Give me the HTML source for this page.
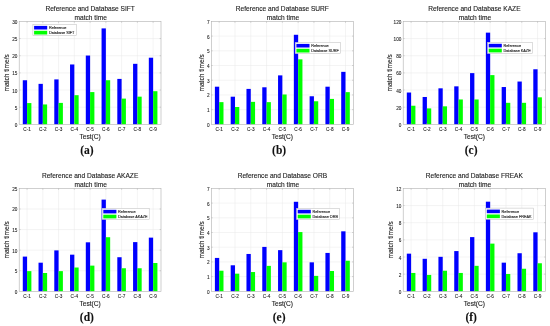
<!DOCTYPE html>
<html><head><meta charset="utf-8"><title>match time</title><style>
html,body{margin:0;padding:0;background:#fff;}
body{width:550px;height:326px;overflow:hidden;}
svg{display:block;}
text{font-family:"Liberation Sans",Arial,sans-serif;fill:#222;}
.gr{stroke:#e8e8e8;stroke-width:0.5;}
.tk{fill:none;stroke:#b0b0b0;stroke-width:0.5;}
.ax{fill:none;stroke:#b0b0b0;stroke-width:0.6;}
.lg{fill:#fff;stroke:#bbb;stroke-width:0.5;}
.yt{font-size:4.7px;text-anchor:end;stroke:#222;stroke-width:0.08px;}
.xt{font-size:4.7px;text-anchor:middle;stroke:#222;stroke-width:0.08px;}
.lab{font-size:6.6px;text-anchor:middle;stroke:#222;stroke-width:0.12px;}
.tt{font-size:6.6px;text-anchor:middle;stroke:#222;stroke-width:0.12px;}
.lt{font-size:3.8px;stroke:#222;stroke-width:0.12px;}
.cap{font-family:"Liberation Serif","Times New Roman",serif;font-weight:bold;font-size:11.5px;text-anchor:middle;fill:#111;stroke:#111;stroke-width:0.1px;}
</style></head>
<body><svg width="550" height="326" viewBox="0 0 550 326">
<rect width="550" height="326" fill="#fff"/>
<line x1="27.08" y1="21.4" x2="27.08" y2="124.35" class="gr"/>
<line x1="42.83" y1="21.4" x2="42.83" y2="124.35" class="gr"/>
<line x1="58.59" y1="21.4" x2="58.59" y2="124.35" class="gr"/>
<line x1="74.34" y1="21.4" x2="74.34" y2="124.35" class="gr"/>
<line x1="90.1" y1="21.4" x2="90.1" y2="124.35" class="gr"/>
<line x1="105.86" y1="21.4" x2="105.86" y2="124.35" class="gr"/>
<line x1="121.61" y1="21.4" x2="121.61" y2="124.35" class="gr"/>
<line x1="137.37" y1="21.4" x2="137.37" y2="124.35" class="gr"/>
<line x1="153.12" y1="21.4" x2="153.12" y2="124.35" class="gr"/>
<line x1="19.2" y1="107.19" x2="161" y2="107.19" class="gr"/>
<line x1="19.2" y1="90.03" x2="161" y2="90.03" class="gr"/>
<line x1="19.2" y1="72.88" x2="161" y2="72.88" class="gr"/>
<line x1="19.2" y1="55.72" x2="161" y2="55.72" class="gr"/>
<line x1="19.2" y1="38.56" x2="161" y2="38.56" class="gr"/>
<rect x="22.78" y="80.25" width="4.3" height="44.1" fill="#0000ff"/>
<rect x="27.08" y="103.07" width="4.3" height="21.28" fill="#00ff00"/>
<rect x="38.53" y="83.86" width="4.3" height="40.49" fill="#0000ff"/>
<rect x="42.83" y="104.45" width="4.3" height="19.9" fill="#00ff00"/>
<rect x="54.29" y="79.4" width="4.3" height="44.95" fill="#0000ff"/>
<rect x="58.59" y="102.9" width="4.3" height="21.45" fill="#00ff00"/>
<rect x="70.04" y="64.47" width="4.3" height="59.88" fill="#0000ff"/>
<rect x="74.34" y="95.18" width="4.3" height="29.17" fill="#00ff00"/>
<rect x="85.8" y="55.55" width="4.3" height="68.8" fill="#0000ff"/>
<rect x="90.1" y="92.09" width="4.3" height="32.26" fill="#00ff00"/>
<rect x="101.56" y="28.4" width="4.3" height="95.95" fill="#0000ff"/>
<rect x="105.86" y="80.22" width="4.3" height="44.13" fill="#00ff00"/>
<rect x="117.31" y="78.91" width="4.3" height="45.44" fill="#0000ff"/>
<rect x="121.61" y="98.61" width="4.3" height="25.74" fill="#00ff00"/>
<rect x="133.07" y="63.82" width="4.3" height="60.53" fill="#0000ff"/>
<rect x="137.37" y="96.66" width="4.3" height="27.69" fill="#00ff00"/>
<rect x="148.82" y="57.71" width="4.3" height="66.64" fill="#0000ff"/>
<rect x="153.12" y="91.2" width="4.3" height="33.15" fill="#00ff00"/>
<path d="M27.08 124.35v-1.4M27.08 21.4v1.4M42.83 124.35v-1.4M42.83 21.4v1.4M58.59 124.35v-1.4M58.59 21.4v1.4M74.34 124.35v-1.4M74.34 21.4v1.4M90.1 124.35v-1.4M90.1 21.4v1.4M105.86 124.35v-1.4M105.86 21.4v1.4M121.61 124.35v-1.4M121.61 21.4v1.4M137.37 124.35v-1.4M137.37 21.4v1.4M153.12 124.35v-1.4M153.12 21.4v1.4M19.2 107.19h1.4M161 107.19h-1.4M19.2 90.03h1.4M161 90.03h-1.4M19.2 72.88h1.4M161 72.88h-1.4M19.2 55.72h1.4M161 55.72h-1.4M19.2 38.56h1.4M161 38.56h-1.4" class="tk"/>
<rect x="19.2" y="21.4" width="141.8" height="102.95" class="ax"/>
<text x="17.4" y="126.85" class="yt">0</text>
<text x="17.4" y="109.69" class="yt">5</text>
<text x="17.4" y="92.53" class="yt">10</text>
<text x="17.4" y="75.38" class="yt">15</text>
<text x="17.4" y="58.22" class="yt">20</text>
<text x="17.4" y="41.06" class="yt">25</text>
<text x="17.4" y="23.9" class="yt">30</text>
<text x="27.08" y="130.85" class="xt">C-1</text>
<text x="42.83" y="130.85" class="xt">C-2</text>
<text x="58.59" y="130.85" class="xt">C-3</text>
<text x="74.34" y="130.85" class="xt">C-4</text>
<text x="90.1" y="130.85" class="xt">C-5</text>
<text x="105.86" y="130.85" class="xt">C-6</text>
<text x="121.61" y="130.85" class="xt">C-7</text>
<text x="137.37" y="130.85" class="xt">C-8</text>
<text x="153.12" y="130.85" class="xt">C-9</text>
<text x="90.1" y="138.65" class="lab">Test(C)</text>
<text transform="translate(8.7,72.88) rotate(-90)" class="lab">match time/s</text>
<text x="90.1" y="10.7" class="tt">Reference and Database SIFT</text>
<text x="90.7" y="19.7" class="tt">match time</text>
<rect x="32.9" y="24.4" width="43.8" height="11.2" class="lg"/>
<rect x="34.1" y="25.9" width="13.1" height="3.6" fill="#0000ff"/>
<rect x="34.1" y="30.8" width="13.1" height="3.7" fill="#00ff00"/>
<text x="48.9" y="28.9" class="lt">Reference</text>
<text x="48.9" y="33.8" class="lt">Database SIFT</text>
<text transform="translate(86.9,154.35)" class="cap">(a)</text>
<line x1="219.19" y1="21.4" x2="219.19" y2="124.35" class="gr"/>
<line x1="234.98" y1="21.4" x2="234.98" y2="124.35" class="gr"/>
<line x1="250.77" y1="21.4" x2="250.77" y2="124.35" class="gr"/>
<line x1="266.56" y1="21.4" x2="266.56" y2="124.35" class="gr"/>
<line x1="282.35" y1="21.4" x2="282.35" y2="124.35" class="gr"/>
<line x1="298.14" y1="21.4" x2="298.14" y2="124.35" class="gr"/>
<line x1="313.93" y1="21.4" x2="313.93" y2="124.35" class="gr"/>
<line x1="329.72" y1="21.4" x2="329.72" y2="124.35" class="gr"/>
<line x1="345.51" y1="21.4" x2="345.51" y2="124.35" class="gr"/>
<line x1="211.3" y1="109.64" x2="353.4" y2="109.64" class="gr"/>
<line x1="211.3" y1="94.94" x2="353.4" y2="94.94" class="gr"/>
<line x1="211.3" y1="80.23" x2="353.4" y2="80.23" class="gr"/>
<line x1="211.3" y1="65.52" x2="353.4" y2="65.52" class="gr"/>
<line x1="211.3" y1="50.81" x2="353.4" y2="50.81" class="gr"/>
<line x1="211.3" y1="36.11" x2="353.4" y2="36.11" class="gr"/>
<rect x="214.89" y="86.7" width="4.3" height="37.65" fill="#0000ff"/>
<rect x="219.19" y="102.14" width="4.3" height="22.21" fill="#00ff00"/>
<rect x="230.68" y="96.7" width="4.3" height="27.65" fill="#0000ff"/>
<rect x="234.98" y="107" width="4.3" height="17.35" fill="#00ff00"/>
<rect x="246.47" y="88.91" width="4.3" height="35.44" fill="#0000ff"/>
<rect x="250.77" y="101.85" width="4.3" height="22.5" fill="#00ff00"/>
<rect x="262.26" y="87.29" width="4.3" height="37.06" fill="#0000ff"/>
<rect x="266.56" y="102.14" width="4.3" height="22.21" fill="#00ff00"/>
<rect x="278.05" y="75.38" width="4.3" height="48.97" fill="#0000ff"/>
<rect x="282.35" y="94.49" width="4.3" height="29.86" fill="#00ff00"/>
<rect x="293.84" y="34.78" width="4.3" height="89.57" fill="#0000ff"/>
<rect x="298.14" y="59.34" width="4.3" height="65.01" fill="#00ff00"/>
<rect x="309.63" y="96.26" width="4.3" height="28.09" fill="#0000ff"/>
<rect x="313.93" y="101.26" width="4.3" height="23.09" fill="#00ff00"/>
<rect x="325.42" y="86.7" width="4.3" height="37.65" fill="#0000ff"/>
<rect x="329.72" y="98.91" width="4.3" height="25.44" fill="#00ff00"/>
<rect x="341.21" y="71.85" width="4.3" height="52.5" fill="#0000ff"/>
<rect x="345.51" y="92.14" width="4.3" height="32.21" fill="#00ff00"/>
<path d="M219.19 124.35v-1.4M219.19 21.4v1.4M234.98 124.35v-1.4M234.98 21.4v1.4M250.77 124.35v-1.4M250.77 21.4v1.4M266.56 124.35v-1.4M266.56 21.4v1.4M282.35 124.35v-1.4M282.35 21.4v1.4M298.14 124.35v-1.4M298.14 21.4v1.4M313.93 124.35v-1.4M313.93 21.4v1.4M329.72 124.35v-1.4M329.72 21.4v1.4M345.51 124.35v-1.4M345.51 21.4v1.4M211.3 109.64h1.4M353.4 109.64h-1.4M211.3 94.94h1.4M353.4 94.94h-1.4M211.3 80.23h1.4M353.4 80.23h-1.4M211.3 65.52h1.4M353.4 65.52h-1.4M211.3 50.81h1.4M353.4 50.81h-1.4M211.3 36.11h1.4M353.4 36.11h-1.4" class="tk"/>
<rect x="211.3" y="21.4" width="142.1" height="102.95" class="ax"/>
<text x="209.5" y="126.85" class="yt">0</text>
<text x="209.5" y="112.14" class="yt">1</text>
<text x="209.5" y="97.44" class="yt">2</text>
<text x="209.5" y="82.73" class="yt">3</text>
<text x="209.5" y="68.02" class="yt">4</text>
<text x="209.5" y="53.31" class="yt">5</text>
<text x="209.5" y="38.61" class="yt">6</text>
<text x="209.5" y="23.9" class="yt">7</text>
<text x="219.19" y="130.85" class="xt">C-1</text>
<text x="234.98" y="130.85" class="xt">C-2</text>
<text x="250.77" y="130.85" class="xt">C-3</text>
<text x="266.56" y="130.85" class="xt">C-4</text>
<text x="282.35" y="130.85" class="xt">C-5</text>
<text x="298.14" y="130.85" class="xt">C-6</text>
<text x="313.93" y="130.85" class="xt">C-7</text>
<text x="329.72" y="130.85" class="xt">C-8</text>
<text x="345.51" y="130.85" class="xt">C-9</text>
<text x="282.35" y="138.65" class="lab">Test(C)</text>
<text transform="translate(204.4,72.88) rotate(-90)" class="lab">match time/s</text>
<text x="282.35" y="10.7" class="tt">Reference and Database SURF</text>
<text x="282.95" y="19.7" class="tt">match time</text>
<rect x="295.2" y="42.4" width="45.3" height="11.2" class="lg"/>
<rect x="296.4" y="43.9" width="13.1" height="3.6" fill="#0000ff"/>
<rect x="296.4" y="48.8" width="13.1" height="3.7" fill="#00ff00"/>
<text x="311.2" y="46.9" class="lt">Reference</text>
<text x="311.2" y="51.8" class="lt">Database SURF</text>
<text transform="translate(279.15,154.35)" class="cap">(b)</text>
<line x1="411.11" y1="21.4" x2="411.11" y2="124.35" class="gr"/>
<line x1="426.92" y1="21.4" x2="426.92" y2="124.35" class="gr"/>
<line x1="442.73" y1="21.4" x2="442.73" y2="124.35" class="gr"/>
<line x1="458.54" y1="21.4" x2="458.54" y2="124.35" class="gr"/>
<line x1="474.35" y1="21.4" x2="474.35" y2="124.35" class="gr"/>
<line x1="490.16" y1="21.4" x2="490.16" y2="124.35" class="gr"/>
<line x1="505.97" y1="21.4" x2="505.97" y2="124.35" class="gr"/>
<line x1="521.78" y1="21.4" x2="521.78" y2="124.35" class="gr"/>
<line x1="537.59" y1="21.4" x2="537.59" y2="124.35" class="gr"/>
<line x1="403.2" y1="107.19" x2="545.5" y2="107.19" class="gr"/>
<line x1="403.2" y1="90.03" x2="545.5" y2="90.03" class="gr"/>
<line x1="403.2" y1="72.88" x2="545.5" y2="72.88" class="gr"/>
<line x1="403.2" y1="55.72" x2="545.5" y2="55.72" class="gr"/>
<line x1="403.2" y1="38.56" x2="545.5" y2="38.56" class="gr"/>
<rect x="406.81" y="92.52" width="4.3" height="31.83" fill="#0000ff"/>
<rect x="411.11" y="105.73" width="4.3" height="18.62" fill="#00ff00"/>
<rect x="422.62" y="96.98" width="4.3" height="27.37" fill="#0000ff"/>
<rect x="426.92" y="108.39" width="4.3" height="15.96" fill="#00ff00"/>
<rect x="438.43" y="88.32" width="4.3" height="36.03" fill="#0000ff"/>
<rect x="442.73" y="106.33" width="4.3" height="18.02" fill="#00ff00"/>
<rect x="454.24" y="86.34" width="4.3" height="38.01" fill="#0000ff"/>
<rect x="458.54" y="99.47" width="4.3" height="24.88" fill="#00ff00"/>
<rect x="470.05" y="73.13" width="4.3" height="51.22" fill="#0000ff"/>
<rect x="474.35" y="99.47" width="4.3" height="24.88" fill="#00ff00"/>
<rect x="485.86" y="32.64" width="4.3" height="91.71" fill="#0000ff"/>
<rect x="490.16" y="75.11" width="4.3" height="49.24" fill="#00ff00"/>
<rect x="501.67" y="87.03" width="4.3" height="37.32" fill="#0000ff"/>
<rect x="505.97" y="102.82" width="4.3" height="21.53" fill="#00ff00"/>
<rect x="517.48" y="81.54" width="4.3" height="42.81" fill="#0000ff"/>
<rect x="521.78" y="102.82" width="4.3" height="21.53" fill="#00ff00"/>
<rect x="533.29" y="69.27" width="4.3" height="55.08" fill="#0000ff"/>
<rect x="537.59" y="97.33" width="4.3" height="27.02" fill="#00ff00"/>
<path d="M411.11 124.35v-1.4M411.11 21.4v1.4M426.92 124.35v-1.4M426.92 21.4v1.4M442.73 124.35v-1.4M442.73 21.4v1.4M458.54 124.35v-1.4M458.54 21.4v1.4M474.35 124.35v-1.4M474.35 21.4v1.4M490.16 124.35v-1.4M490.16 21.4v1.4M505.97 124.35v-1.4M505.97 21.4v1.4M521.78 124.35v-1.4M521.78 21.4v1.4M537.59 124.35v-1.4M537.59 21.4v1.4M403.2 107.19h1.4M545.5 107.19h-1.4M403.2 90.03h1.4M545.5 90.03h-1.4M403.2 72.88h1.4M545.5 72.88h-1.4M403.2 55.72h1.4M545.5 55.72h-1.4M403.2 38.56h1.4M545.5 38.56h-1.4" class="tk"/>
<rect x="403.2" y="21.4" width="142.3" height="102.95" class="ax"/>
<text x="401.4" y="126.85" class="yt">0</text>
<text x="401.4" y="109.69" class="yt">20</text>
<text x="401.4" y="92.53" class="yt">40</text>
<text x="401.4" y="75.38" class="yt">60</text>
<text x="401.4" y="58.22" class="yt">80</text>
<text x="401.4" y="41.06" class="yt">100</text>
<text x="401.4" y="23.9" class="yt">120</text>
<text x="411.11" y="130.85" class="xt">C-1</text>
<text x="426.92" y="130.85" class="xt">C-2</text>
<text x="442.73" y="130.85" class="xt">C-3</text>
<text x="458.54" y="130.85" class="xt">C-4</text>
<text x="474.35" y="130.85" class="xt">C-5</text>
<text x="490.16" y="130.85" class="xt">C-6</text>
<text x="505.97" y="130.85" class="xt">C-7</text>
<text x="521.78" y="130.85" class="xt">C-8</text>
<text x="537.59" y="130.85" class="xt">C-9</text>
<text x="474.35" y="138.65" class="lab">Test(C)</text>
<text transform="translate(392,72.88) rotate(-90)" class="lab">match time/s</text>
<text x="474.35" y="10.7" class="tt">Reference and Database KAZE</text>
<text x="474.95" y="19.7" class="tt">match time</text>
<rect x="487.5" y="42.3" width="45.1" height="11.2" class="lg"/>
<rect x="488.7" y="43.8" width="13.1" height="3.6" fill="#0000ff"/>
<rect x="488.7" y="48.7" width="13.1" height="3.7" fill="#00ff00"/>
<text x="503.5" y="46.8" class="lt">Reference</text>
<text x="503.5" y="51.7" class="lt">Database KAZE</text>
<text transform="translate(471.15,154.35)" class="cap">(c)</text>
<line x1="27.08" y1="188.4" x2="27.08" y2="291.3" class="gr"/>
<line x1="42.83" y1="188.4" x2="42.83" y2="291.3" class="gr"/>
<line x1="58.59" y1="188.4" x2="58.59" y2="291.3" class="gr"/>
<line x1="74.34" y1="188.4" x2="74.34" y2="291.3" class="gr"/>
<line x1="90.1" y1="188.4" x2="90.1" y2="291.3" class="gr"/>
<line x1="105.86" y1="188.4" x2="105.86" y2="291.3" class="gr"/>
<line x1="121.61" y1="188.4" x2="121.61" y2="291.3" class="gr"/>
<line x1="137.37" y1="188.4" x2="137.37" y2="291.3" class="gr"/>
<line x1="153.12" y1="188.4" x2="153.12" y2="291.3" class="gr"/>
<line x1="19.2" y1="270.72" x2="161" y2="270.72" class="gr"/>
<line x1="19.2" y1="250.14" x2="161" y2="250.14" class="gr"/>
<line x1="19.2" y1="229.56" x2="161" y2="229.56" class="gr"/>
<line x1="19.2" y1="208.98" x2="161" y2="208.98" class="gr"/>
<rect x="22.78" y="256.6" width="4.3" height="34.7" fill="#0000ff"/>
<rect x="27.08" y="271.13" width="4.3" height="20.17" fill="#00ff00"/>
<rect x="38.53" y="262.69" width="4.3" height="28.61" fill="#0000ff"/>
<rect x="42.83" y="272.98" width="4.3" height="18.32" fill="#00ff00"/>
<rect x="54.29" y="250.39" width="4.3" height="40.91" fill="#0000ff"/>
<rect x="58.59" y="271.13" width="4.3" height="20.17" fill="#00ff00"/>
<rect x="70.04" y="254.67" width="4.3" height="36.63" fill="#0000ff"/>
<rect x="74.34" y="267.51" width="4.3" height="23.79" fill="#00ff00"/>
<rect x="85.8" y="242.32" width="4.3" height="48.98" fill="#0000ff"/>
<rect x="90.1" y="265.62" width="4.3" height="25.68" fill="#00ff00"/>
<rect x="101.56" y="199.6" width="4.3" height="91.7" fill="#0000ff"/>
<rect x="105.86" y="237.22" width="4.3" height="54.08" fill="#00ff00"/>
<rect x="117.31" y="257.22" width="4.3" height="34.08" fill="#0000ff"/>
<rect x="121.61" y="268.25" width="4.3" height="23.05" fill="#00ff00"/>
<rect x="133.07" y="242.11" width="4.3" height="49.19" fill="#0000ff"/>
<rect x="137.37" y="268.25" width="4.3" height="23.05" fill="#00ff00"/>
<rect x="148.82" y="237.63" width="4.3" height="53.67" fill="#0000ff"/>
<rect x="153.12" y="263.02" width="4.3" height="28.28" fill="#00ff00"/>
<path d="M27.08 291.3v-1.4M27.08 188.4v1.4M42.83 291.3v-1.4M42.83 188.4v1.4M58.59 291.3v-1.4M58.59 188.4v1.4M74.34 291.3v-1.4M74.34 188.4v1.4M90.1 291.3v-1.4M90.1 188.4v1.4M105.86 291.3v-1.4M105.86 188.4v1.4M121.61 291.3v-1.4M121.61 188.4v1.4M137.37 291.3v-1.4M137.37 188.4v1.4M153.12 291.3v-1.4M153.12 188.4v1.4M19.2 270.72h1.4M161 270.72h-1.4M19.2 250.14h1.4M161 250.14h-1.4M19.2 229.56h1.4M161 229.56h-1.4M19.2 208.98h1.4M161 208.98h-1.4" class="tk"/>
<rect x="19.2" y="188.4" width="141.8" height="102.9" class="ax"/>
<text x="17.4" y="293.8" class="yt">0</text>
<text x="17.4" y="273.22" class="yt">5</text>
<text x="17.4" y="252.64" class="yt">10</text>
<text x="17.4" y="232.06" class="yt">15</text>
<text x="17.4" y="211.48" class="yt">20</text>
<text x="17.4" y="190.9" class="yt">25</text>
<text x="27.08" y="297.8" class="xt">C-1</text>
<text x="42.83" y="297.8" class="xt">C-2</text>
<text x="58.59" y="297.8" class="xt">C-3</text>
<text x="74.34" y="297.8" class="xt">C-4</text>
<text x="90.1" y="297.8" class="xt">C-5</text>
<text x="105.86" y="297.8" class="xt">C-6</text>
<text x="121.61" y="297.8" class="xt">C-7</text>
<text x="137.37" y="297.8" class="xt">C-8</text>
<text x="153.12" y="297.8" class="xt">C-9</text>
<text x="90.1" y="305.6" class="lab">Test(C)</text>
<text transform="translate(8.7,239.85) rotate(-90)" class="lab">match time/s</text>
<text x="90.1" y="177.7" class="tt">Reference and Database AKAZE</text>
<text x="90.7" y="186.7" class="tt">match time</text>
<rect x="102.1" y="208.3" width="47.1" height="11.2" class="lg"/>
<rect x="103.3" y="209.8" width="13.1" height="3.6" fill="#0000ff"/>
<rect x="103.3" y="214.7" width="13.1" height="3.7" fill="#00ff00"/>
<text x="118.1" y="212.8" class="lt">Reference</text>
<text x="118.1" y="217.7" class="lt">Database AKAZE</text>
<text transform="translate(86.9,321.3)" class="cap">(d)</text>
<line x1="219.19" y1="188.4" x2="219.19" y2="291.3" class="gr"/>
<line x1="234.98" y1="188.4" x2="234.98" y2="291.3" class="gr"/>
<line x1="250.77" y1="188.4" x2="250.77" y2="291.3" class="gr"/>
<line x1="266.56" y1="188.4" x2="266.56" y2="291.3" class="gr"/>
<line x1="282.35" y1="188.4" x2="282.35" y2="291.3" class="gr"/>
<line x1="298.14" y1="188.4" x2="298.14" y2="291.3" class="gr"/>
<line x1="313.93" y1="188.4" x2="313.93" y2="291.3" class="gr"/>
<line x1="329.72" y1="188.4" x2="329.72" y2="291.3" class="gr"/>
<line x1="345.51" y1="188.4" x2="345.51" y2="291.3" class="gr"/>
<line x1="211.3" y1="276.6" x2="353.4" y2="276.6" class="gr"/>
<line x1="211.3" y1="261.9" x2="353.4" y2="261.9" class="gr"/>
<line x1="211.3" y1="247.2" x2="353.4" y2="247.2" class="gr"/>
<line x1="211.3" y1="232.5" x2="353.4" y2="232.5" class="gr"/>
<line x1="211.3" y1="217.8" x2="353.4" y2="217.8" class="gr"/>
<line x1="211.3" y1="203.1" x2="353.4" y2="203.1" class="gr"/>
<rect x="214.89" y="257.93" width="4.3" height="33.37" fill="#0000ff"/>
<rect x="219.19" y="270.72" width="4.3" height="20.58" fill="#00ff00"/>
<rect x="230.68" y="265.28" width="4.3" height="26.02" fill="#0000ff"/>
<rect x="234.98" y="273.66" width="4.3" height="17.64" fill="#00ff00"/>
<rect x="246.47" y="253.96" width="4.3" height="37.34" fill="#0000ff"/>
<rect x="250.77" y="272.04" width="4.3" height="19.26" fill="#00ff00"/>
<rect x="262.26" y="246.91" width="4.3" height="44.39" fill="#0000ff"/>
<rect x="266.56" y="265.87" width="4.3" height="25.43" fill="#00ff00"/>
<rect x="278.05" y="250.14" width="4.3" height="41.16" fill="#0000ff"/>
<rect x="282.35" y="262.34" width="4.3" height="28.96" fill="#00ff00"/>
<rect x="293.84" y="201.78" width="4.3" height="89.52" fill="#0000ff"/>
<rect x="298.14" y="232.06" width="4.3" height="59.24" fill="#00ff00"/>
<rect x="309.63" y="262.34" width="4.3" height="28.96" fill="#0000ff"/>
<rect x="313.93" y="275.87" width="4.3" height="15.44" fill="#00ff00"/>
<rect x="325.42" y="252.93" width="4.3" height="38.37" fill="#0000ff"/>
<rect x="329.72" y="271.01" width="4.3" height="20.29" fill="#00ff00"/>
<rect x="341.21" y="231.32" width="4.3" height="59.98" fill="#0000ff"/>
<rect x="345.51" y="260.72" width="4.3" height="30.58" fill="#00ff00"/>
<path d="M219.19 291.3v-1.4M219.19 188.4v1.4M234.98 291.3v-1.4M234.98 188.4v1.4M250.77 291.3v-1.4M250.77 188.4v1.4M266.56 291.3v-1.4M266.56 188.4v1.4M282.35 291.3v-1.4M282.35 188.4v1.4M298.14 291.3v-1.4M298.14 188.4v1.4M313.93 291.3v-1.4M313.93 188.4v1.4M329.72 291.3v-1.4M329.72 188.4v1.4M345.51 291.3v-1.4M345.51 188.4v1.4M211.3 276.6h1.4M353.4 276.6h-1.4M211.3 261.9h1.4M353.4 261.9h-1.4M211.3 247.2h1.4M353.4 247.2h-1.4M211.3 232.5h1.4M353.4 232.5h-1.4M211.3 217.8h1.4M353.4 217.8h-1.4M211.3 203.1h1.4M353.4 203.1h-1.4" class="tk"/>
<rect x="211.3" y="188.4" width="142.1" height="102.9" class="ax"/>
<text x="209.5" y="293.8" class="yt">0</text>
<text x="209.5" y="279.1" class="yt">1</text>
<text x="209.5" y="264.4" class="yt">2</text>
<text x="209.5" y="249.7" class="yt">3</text>
<text x="209.5" y="235" class="yt">4</text>
<text x="209.5" y="220.3" class="yt">5</text>
<text x="209.5" y="205.6" class="yt">6</text>
<text x="209.5" y="190.9" class="yt">7</text>
<text x="219.19" y="297.8" class="xt">C-1</text>
<text x="234.98" y="297.8" class="xt">C-2</text>
<text x="250.77" y="297.8" class="xt">C-3</text>
<text x="266.56" y="297.8" class="xt">C-4</text>
<text x="282.35" y="297.8" class="xt">C-5</text>
<text x="298.14" y="297.8" class="xt">C-6</text>
<text x="313.93" y="297.8" class="xt">C-7</text>
<text x="329.72" y="297.8" class="xt">C-8</text>
<text x="345.51" y="297.8" class="xt">C-9</text>
<text x="282.35" y="305.6" class="lab">Test(C)</text>
<text transform="translate(204.4,239.85) rotate(-90)" class="lab">match time/s</text>
<text x="282.35" y="177.7" class="tt">Reference and Database ORB</text>
<text x="282.95" y="186.7" class="tt">match time</text>
<rect x="296.5" y="208.3" width="43" height="11.2" class="lg"/>
<rect x="297.7" y="209.8" width="13.1" height="3.6" fill="#0000ff"/>
<rect x="297.7" y="214.7" width="13.1" height="3.7" fill="#00ff00"/>
<text x="312.5" y="212.8" class="lt">Reference</text>
<text x="312.5" y="217.7" class="lt">Database ORB</text>
<text transform="translate(279.15,321.3)" class="cap">(e)</text>
<line x1="411.11" y1="188.4" x2="411.11" y2="291.3" class="gr"/>
<line x1="426.92" y1="188.4" x2="426.92" y2="291.3" class="gr"/>
<line x1="442.73" y1="188.4" x2="442.73" y2="291.3" class="gr"/>
<line x1="458.54" y1="188.4" x2="458.54" y2="291.3" class="gr"/>
<line x1="474.35" y1="188.4" x2="474.35" y2="291.3" class="gr"/>
<line x1="490.16" y1="188.4" x2="490.16" y2="291.3" class="gr"/>
<line x1="505.97" y1="188.4" x2="505.97" y2="291.3" class="gr"/>
<line x1="521.78" y1="188.4" x2="521.78" y2="291.3" class="gr"/>
<line x1="537.59" y1="188.4" x2="537.59" y2="291.3" class="gr"/>
<line x1="403.2" y1="274.15" x2="545.5" y2="274.15" class="gr"/>
<line x1="403.2" y1="257" x2="545.5" y2="257" class="gr"/>
<line x1="403.2" y1="239.85" x2="545.5" y2="239.85" class="gr"/>
<line x1="403.2" y1="222.7" x2="545.5" y2="222.7" class="gr"/>
<line x1="403.2" y1="205.55" x2="545.5" y2="205.55" class="gr"/>
<rect x="406.81" y="253.66" width="4.3" height="37.64" fill="#0000ff"/>
<rect x="411.11" y="272.95" width="4.3" height="18.35" fill="#00ff00"/>
<rect x="422.62" y="258.8" width="4.3" height="32.5" fill="#0000ff"/>
<rect x="426.92" y="274.92" width="4.3" height="16.38" fill="#00ff00"/>
<rect x="438.43" y="256.83" width="4.3" height="34.47" fill="#0000ff"/>
<rect x="442.73" y="270.72" width="4.3" height="20.58" fill="#00ff00"/>
<rect x="454.24" y="251.08" width="4.3" height="40.22" fill="#0000ff"/>
<rect x="458.54" y="272.95" width="4.3" height="18.35" fill="#00ff00"/>
<rect x="470.05" y="237.11" width="4.3" height="54.19" fill="#0000ff"/>
<rect x="474.35" y="265.83" width="4.3" height="25.47" fill="#00ff00"/>
<rect x="485.86" y="201.69" width="4.3" height="89.61" fill="#0000ff"/>
<rect x="490.16" y="243.62" width="4.3" height="47.68" fill="#00ff00"/>
<rect x="501.67" y="262.66" width="4.3" height="28.64" fill="#0000ff"/>
<rect x="505.97" y="273.98" width="4.3" height="17.32" fill="#00ff00"/>
<rect x="517.48" y="253.23" width="4.3" height="38.07" fill="#0000ff"/>
<rect x="521.78" y="268.75" width="4.3" height="22.55" fill="#00ff00"/>
<rect x="533.29" y="232.3" width="4.3" height="59" fill="#0000ff"/>
<rect x="537.59" y="263.26" width="4.3" height="28.04" fill="#00ff00"/>
<path d="M411.11 291.3v-1.4M411.11 188.4v1.4M426.92 291.3v-1.4M426.92 188.4v1.4M442.73 291.3v-1.4M442.73 188.4v1.4M458.54 291.3v-1.4M458.54 188.4v1.4M474.35 291.3v-1.4M474.35 188.4v1.4M490.16 291.3v-1.4M490.16 188.4v1.4M505.97 291.3v-1.4M505.97 188.4v1.4M521.78 291.3v-1.4M521.78 188.4v1.4M537.59 291.3v-1.4M537.59 188.4v1.4M403.2 274.15h1.4M545.5 274.15h-1.4M403.2 257h1.4M545.5 257h-1.4M403.2 239.85h1.4M545.5 239.85h-1.4M403.2 222.7h1.4M545.5 222.7h-1.4M403.2 205.55h1.4M545.5 205.55h-1.4" class="tk"/>
<rect x="403.2" y="188.4" width="142.3" height="102.9" class="ax"/>
<text x="401.4" y="293.8" class="yt">0</text>
<text x="401.4" y="276.65" class="yt">2</text>
<text x="401.4" y="259.5" class="yt">4</text>
<text x="401.4" y="242.35" class="yt">6</text>
<text x="401.4" y="225.2" class="yt">8</text>
<text x="401.4" y="208.05" class="yt">10</text>
<text x="401.4" y="190.9" class="yt">12</text>
<text x="411.11" y="297.8" class="xt">C-1</text>
<text x="426.92" y="297.8" class="xt">C-2</text>
<text x="442.73" y="297.8" class="xt">C-3</text>
<text x="458.54" y="297.8" class="xt">C-4</text>
<text x="474.35" y="297.8" class="xt">C-5</text>
<text x="490.16" y="297.8" class="xt">C-6</text>
<text x="505.97" y="297.8" class="xt">C-7</text>
<text x="521.78" y="297.8" class="xt">C-8</text>
<text x="537.59" y="297.8" class="xt">C-9</text>
<text x="474.35" y="305.6" class="lab">Test(C)</text>
<text transform="translate(392.7,239.85) rotate(-90)" class="lab">match time/s</text>
<text x="474.35" y="177.7" class="tt">Reference and Database FREAK</text>
<text x="474.95" y="186.7" class="tt">match time</text>
<rect x="485.6" y="208.1" width="47.7" height="11.2" class="lg"/>
<rect x="486.8" y="209.6" width="13.1" height="3.6" fill="#0000ff"/>
<rect x="486.8" y="214.5" width="13.1" height="3.7" fill="#00ff00"/>
<text x="501.6" y="212.6" class="lt">Reference</text>
<text x="501.6" y="217.5" class="lt">Database FREAK</text>
<text transform="translate(471.15,321.3)" class="cap">(f)</text>
</svg></body></html>
